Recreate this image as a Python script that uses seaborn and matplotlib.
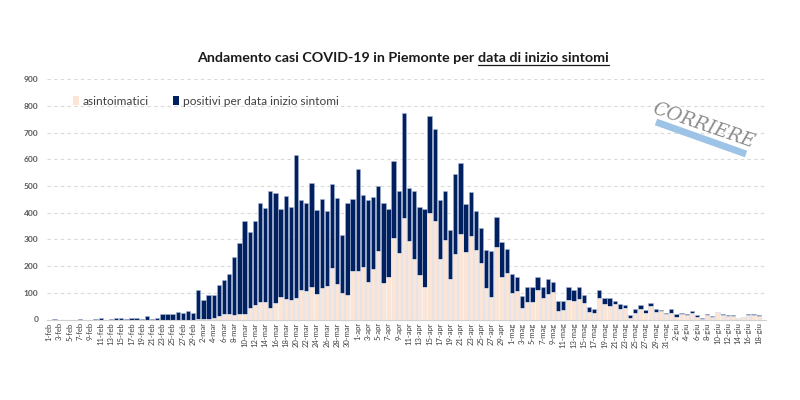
import matplotlib
matplotlib.use("Agg")
import matplotlib.pyplot as plt
import seaborn as sns
import pandas as pd
from matplotlib.patches import Patch
from matplotlib.lines import Line2D

# ---- data ----
mesi = ["feb", "mar", "apr", "mag", "giu"]
giorni_mese = [29, 31, 30, 31, 18]
date = [f"{d}-{m}" for m, n in zip(mesi, giorni_mese) for d in range(1, n + 1)]

# top of each stacked bar (asintomatici + positivi)
totale_feb = [0, 2, 0, 0, 0, 0, 3, 0, 0, 2, 4, 0, 2, 5, 5, 2, 6, 5, 2, 14,
              1, 6, 20, 20, 20, 27, 24, 30, 26]
totale_mar = [110, 72, 91, 91, 129, 148, 172, 235, 285, 369, 326, 369, 435, 418,
              480, 475, 414, 463, 423, 616, 449, 438, 510, 409, 450, 408, 508,
              455, 316, 435, 451]
totale_apr = [563, 466, 446, 459, 499, 435, 413, 593, 481, 773, 494, 481, 421,
              413, 764, 715, 446, 481, 335, 545, 585, 432, 476, 406, 344, 262,
              257, 384, 292, 265]
totale_mag = [171, 159, 87, 121, 121, 160, 123, 150, 139, 71, 71, 120, 110, 120,
              91, 46, 39, 112, 82, 79, 70, 59, 54, 15, 41, 56, 35, 61, 40, 35, 25]
totale_giu = [39, 20, 25, 22, 31, 16, 5, 20, 12, 27, 20, 16, 15, 5, 11, 20, 19, 15]

asint_feb = [0] * 29
asint_mar = [2, 2, 3, 6, 12, 19, 19, 17, 22, 20, 44, 54, 66, 66, 43, 63, 83, 78,
             73, 81, 109, 105, 121, 96, 119, 125, 193, 133, 101, 90, 183]
asint_apr = [183, 195, 140, 191, 255, 136, 159, 304, 250, 379, 296, 226, 165,
             123, 400, 369, 225, 298, 153, 244, 319, 252, 312, 259, 212, 119,
             84, 271, 160, 174]
asint_mag = [99, 105, 44, 64, 64, 109, 81, 95, 104, 33, 36, 74, 71, 78, 61, 28,
             26, 79, 59, 51, 57, 39, 42, 7, 25, 41, 23, 52, 29, 30, 20]
asint_giu = [26, 11, 19, 16, 25, 9, 2, 15, 9, 27, 16, 12, 14, 4, 9, 18, 18, 14]

totale = totale_feb + totale_mar + totale_apr + totale_mag + totale_giu
asintomatici = asint_feb + asint_mar + asint_apr + asint_mag + asint_giu

df = pd.DataFrame({"data": date, "totale": totale, "asintomatici": asintomatici})

NAVY = "#002060"
PEACH = "#fbe5d6"

sns.set_theme(style="white")
plt.rcParams["font.family"] = ["Lato", "DejaVu Sans"]

fig = plt.figure(figsize=(8, 4), dpi=100)
fig.patch.set_facecolor("white")
ax = fig.add_axes([46.7 / 800, 1 - 319.5 / 400, (766.3 - 46.7) / 800, (319.5 - 79.3) / 400])

sns.barplot(data=df, x="data", y="totale", color=NAVY, saturation=1, width=0.84,
            edgecolor="#aab6d3", linewidth=0.4, errorbar=None, ax=ax)
sns.barplot(data=df, x="data", y="asintomatici", color=PEACH, saturation=1, width=0.84,
            edgecolor="white", linewidth=0.4, errorbar=None, ax=ax)

n = len(date)
ax.set_xlim(-0.5, n + 0.5)
ax.set_ylim(0, 900)
ax.set_yticks(range(0, 901, 100))
ax.set_yticklabels([str(v) for v in range(0, 901, 100)], fontsize=6, color="#595959",
                   fontweight="bold")
ax.set_xticks(range(0, n, 2))
ax.set_xticklabels(date[::2], rotation=90, fontsize=5.5, color="#404040")
ax.tick_params(axis="both", length=0)
ax.tick_params(axis="y", pad=6)
ax.tick_params(axis="x", pad=2)
ax.set_xlabel("")
ax.set_ylabel("")
ax.set_axisbelow(True)
ax.yaxis.grid(True, linestyle=(0, (3, 3)), color="#d9d9d9", linewidth=0.8)
ax.xaxis.grid(False)
for s in ["left", "right", "top"]:
    ax.spines[s].set_visible(False)
ax.spines["bottom"].set_color("#d0d0d0")
ax.spines["bottom"].set_linewidth(0.8)
ax.set_facecolor("white")

# ---- title with underlined part ----
fig.canvas.draw()
renderer = fig.canvas.get_renderer()
part1 = "Andamento casi COVID-19 in Piemonte per "
part2 = "data di inizio sintomi"
fs = 10.5
t1 = fig.text(0, 0, part1, fontsize=fs, fontweight="bold", color="#1a1a1a")
t2 = fig.text(0, 0, part2, fontsize=fs, fontweight="bold", color="#1a1a1a")
w_target = 411.0
w = t1.get_window_extent(renderer).width + t2.get_window_extent(renderer).width
fs = fs * w_target / w
t1.set_fontsize(fs)
t2.set_fontsize(fs)
w1 = t1.get_window_extent(renderer).width
w2 = t2.get_window_extent(renderer).width
x_start = 403 - (w1 + w2) / 2
y_base = 400 - 62
t1.set_position((x_start / 800, y_base / 400))
t2.set_position(((x_start + w1) / 800, y_base / 400))
t1.set_va("baseline")
t2.set_va("baseline")
fig.add_artist(Line2D([(x_start + w1) / 800, (x_start + w1 + w2) / 800],
                      [(y_base - 2.5) / 400, (y_base - 2.5) / 400],
                      transform=fig.transFigure, color="#1a1a1a", linewidth=0.9))

# ---- legend ----
handles = [Patch(facecolor=PEACH, edgecolor="none"), Patch(facecolor=NAVY, edgecolor="none")]
fig.legend(handles, ["asintoimatici", "positivi per data inizio sintomi"],
           loc="upper left", bbox_to_anchor=(62 / 800, 1 - 85 / 400), ncol=2,
           frameon=False, fontsize=8.6, handlelength=0.5, handleheight=0.8,
           handletextpad=0.35, columnspacing=2.0, labelcolor="#404040")

# ---- logo ----
fig.add_artist(Line2D([656 / 800, 746 / 800], [1 - 122 / 400, 1 - 154 / 400],
                      transform=fig.transFigure, color="#9dc3e6", linewidth=5,
                      solid_capstyle="butt"))
fig.text(703 / 800, 1 - 126 / 400, "CORRIERE", rotation=-19, fontsize=13.5,
         color="#8c8c8c", family="DejaVu Serif", style="italic",
         ha="center", va="center")

fig.savefig("out.png", dpi=100, facecolor="white")
